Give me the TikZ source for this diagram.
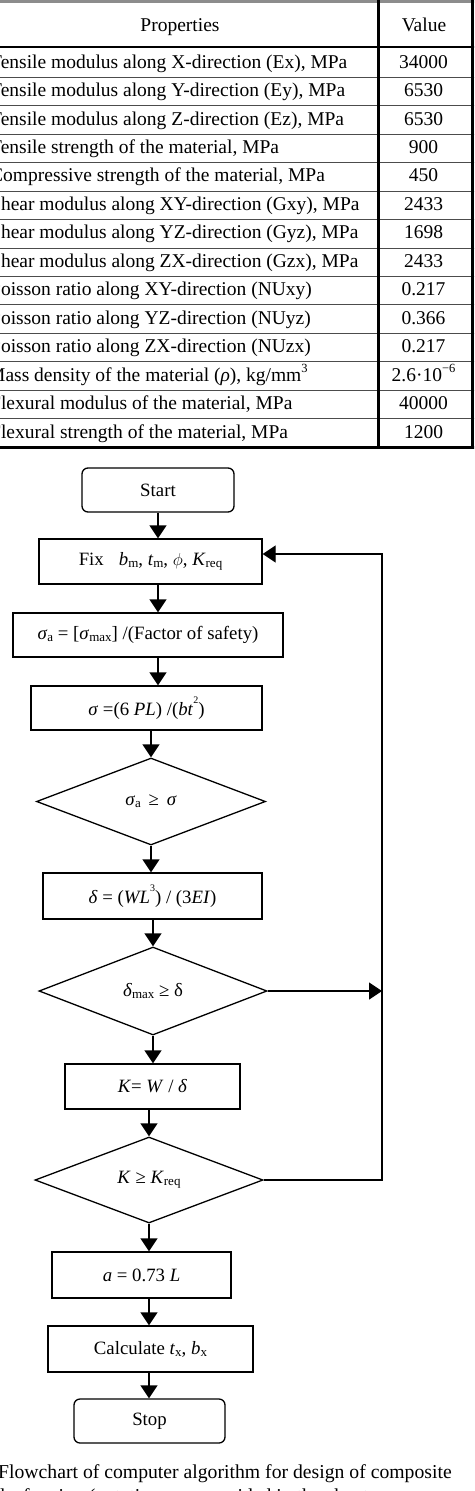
\documentclass[tikz,border=0pt]{standalone}
\usepackage{fontspec}
\setmainfont{Liberation Serif}
\usetikzlibrary{shapes.geometric,arrows.meta}
\newcommand\sbx[1]{\raisebox{-0.12em}{\fontsize{13}{13}\selectfont #1}}
\newcommand\spx[1]{\raisebox{0.62em}{\fontsize{10}{10}\selectfont #1}}
\newcommand\tsp[1]{\raisebox{0.42em}{\fontsize{12.5}{12.5}\selectfont #1}}
\newcommand\tf{\fontsize{19.5}{22}\selectfont}
\newcommand\ff{\fontsize{18.8}{22}\selectfont}
\begin{document}
\begin{tikzpicture}[x=1pt,y=-1pt,
  tl/.style={font=\tf, inner sep=0pt, anchor=base west},
  tv/.style={font=\tf, inner sep=0pt, anchor=base},
  sep/.style={line width=1pt, black!70},
  box/.style={draw, line width=1.3pt, inner sep=0pt, font=\ff},
  rbox/.style={box, rounded corners=6pt},
  dbox/.style={box, shape=diamond, aspect=2.6},
  arr/.style={line width=1.3pt, line join=miter, -{Triangle[length=13pt,width=17pt]}}]
\useasboundingbox (0,0) rectangle (474,1491);
\clip (0,0) rectangle (474,1491);
\fill[white] (0,0) rectangle (474,1491);
% ---------- table ----------
\draw[line width=2.7pt, black!45] (-20,1.3) -- (476,1.3);
\draw[line width=2.5pt] (-20,47) -- (476,47);
\foreach \y in {77.3,105.76,134.22,162.68,191.14,219.6,248.06,276.52,304.98,333.44,361.9,390.36,418.82}
  \draw[sep] (-20,\y) -- (476,\y);
\draw[line width=3pt] (-20,447.3) -- (476,447.3);
\draw[line width=3.3pt] (378.3,0) -- (378.3,448.8);
\draw[line width=3pt] (472.5,0) -- (472.5,448.8);
\node[tv] (hp) at (180,31.7) {Properties};
\node[tv] (hv) at (424,31.7) {Value};
\node[tl] (r1) at (-10,68.5) {Tensile modulus along X-direction (Ex), MPa};
\node[tl] (r2) at (-10,96.5) {Tensile modulus along Y-direction (Ey), MPa};
\node[tl] (r3) at (-10,125.0) {Tensile modulus along Z-direction (Ez), MPa};
\node[tl] (r4) at (-10,153.5) {Tensile strength of the material, MPa};
\node[tl] (r5) at (-10,181.9) {Compressive strength of the material, MPa};
\node[tl] (r6) at (-10,210.4) {Shear modulus along XY-direction (Gxy), MPa};
\node[tl] (r7) at (-10,238.8) {Shear modulus along YZ-direction (Gyz), MPa};
\node[tl] (r8) at (-10,267.3) {Shear modulus along ZX-direction (Gzx), MPa};
\node[tl] (r9) at (-10,295.8) {Poisson ratio along XY-direction (NUxy)};
\node[tl] (r10) at (-10,324.2) {Poisson ratio along YZ-direction (NUyz)};
\node[tl] (r11) at (-10,352.7) {Poisson ratio along ZX-direction (NUzx)};
\node[tl] (r12) at (-12,381.1) {Mass density of the material (\textit{ρ}), kg/mm\tsp{3}};
\node[tl] (r13) at (-10,409.6) {Flexural modulus of the material, MPa};
\node[tl] (r14) at (-10,438.1) {Flexural strength of the material, MPa};
\node[tv] (v1) at (423.5,68.5) {34000};
\node[tv] (v2) at (423.5,96.5) {6530};
\node[tv] (v3) at (423.5,125.0) {6530};
\node[tv] (v4) at (423.5,153.5) {900};
\node[tv] (v5) at (423.5,181.9) {450};
\node[tv] (v6) at (423.5,210.4) {2433};
\node[tv] (v7) at (423.5,238.8) {1698};
\node[tv] (v8) at (423.5,267.3) {2433};
\node[tv] (v9) at (423.5,295.8) {0.217};
\node[tv] (v10) at (423.5,324.2) {0.366};
\node[tv] (v11) at (423.5,352.7) {0.217};
\node[tv] (v12) at (423.5,381.1) {2.6·10\tsp{−6}};
\node[tv] (v13) at (423.5,409.6) {40000};
\node[tv] (v14) at (423.5,438.1) {1200};
% ---------- flowchart ----------
\node[rbox, minimum width=152, minimum height=44] (start) at (158,490) {Start};
\node[box, minimum width=223, minimum height=45] (fix) at (150.5,561.5)
  {Fix\hspace{0.8em}\textit{b}\sbx{m}, \textit{t}\sbx{m}, $\phi$, \textit{K}\sbx{req}};
\node[box, minimum width=270, minimum height=44] (sa) at (148,635)
  {\textit{σ}\sbx{a} = [\textit{σ}\sbx{max}] /(Factor of safety)};
\node[box, minimum width=231, minimum height=44] (sig) at (146.5,708)
  {\textit{σ} =(6 \textit{PL}) /(\textit{bt}\spx{2})};
\node[dbox, minimum width=229, minimum height=87] (d1) at (151,801.5)
  {\textit{σ}\sbx{a} \,≥\, \textit{σ}};
\node[box, minimum width=219, minimum height=46] (del) at (152.5,896)
  {\textit{δ} = (\textit{WL}\spx{3}) / (3\textit{EI})};
\node[dbox, minimum width=228, minimum height=88] (d2) at (153,991)
  {\textit{δ}\sbx{max} ≥ δ};
\node[box, minimum width=175, minimum height=45] (kb) at (152.5,1086.5)
  {\textit{K}= \textit{W} / \textit{δ}};
\node[dbox, minimum width=228, minimum height=86] (d3) at (149,1180)
  {\textit{K} ≥ \textit{K}\sbx{req}};
\node[box, minimum width=179, minimum height=46] (ab) at (141.5,1275)
  {\textit{a} = 0.73 \textit{L}};
\node[box, minimum width=205, minimum height=46] (calc) at (150.5,1349)
  {Calculate \textit{t}\sbx{x}, \textit{b}\sbx{x}};
\node[rbox, minimum width=151, minimum height=44] (stop) at (149.5,1421) {Stop};
\coordinate (lt) at (382,554);
\draw[arr] (start.south) -- (start.south |- fix.north);
\draw[arr] (fix.south -| start.south) -- (sa.north -| start.south);
\draw[arr] (sa.south -| start.south) -- (sig.north -| start.south);
\draw[arr] (sig.south -| d1.north) -- (d1.north);
\draw[arr] (d1.south) -- (d1.south |- del.north);
\draw[arr] (del.south -| d2.north) -- (d2.north);
\draw[arr] (d2.south) -- (d2.south |- kb.north);
\draw[arr] (kb.south -| d3.north) -- (d3.north);
\draw[arr] (d3.south) -- (d3.south |- ab.north);
\draw[arr] (ab.south -| d3.south) -- (calc.north -| d3.south);
\draw[arr] (calc.south -| d3.south) -- (stop.north -| d3.south);
\draw[arr] (d2.east) -- (d2.east -| lt);
\draw[arr] (d3.east) -| (lt) -- (fix.east |- lt);
% ---------- caption ----------
\node[tl, font=\fontsize{19.7}{22}\selectfont] (cap1) at (-2,1478)
  {Flowchart of computer algorithm for design of composite};
\node[tl, font=\fontsize{19.7}{22}\selectfont] (cap2) at (0,1502)
  {leaf spring (notations are provided in the chapter};
\end{tikzpicture}
\end{document}
